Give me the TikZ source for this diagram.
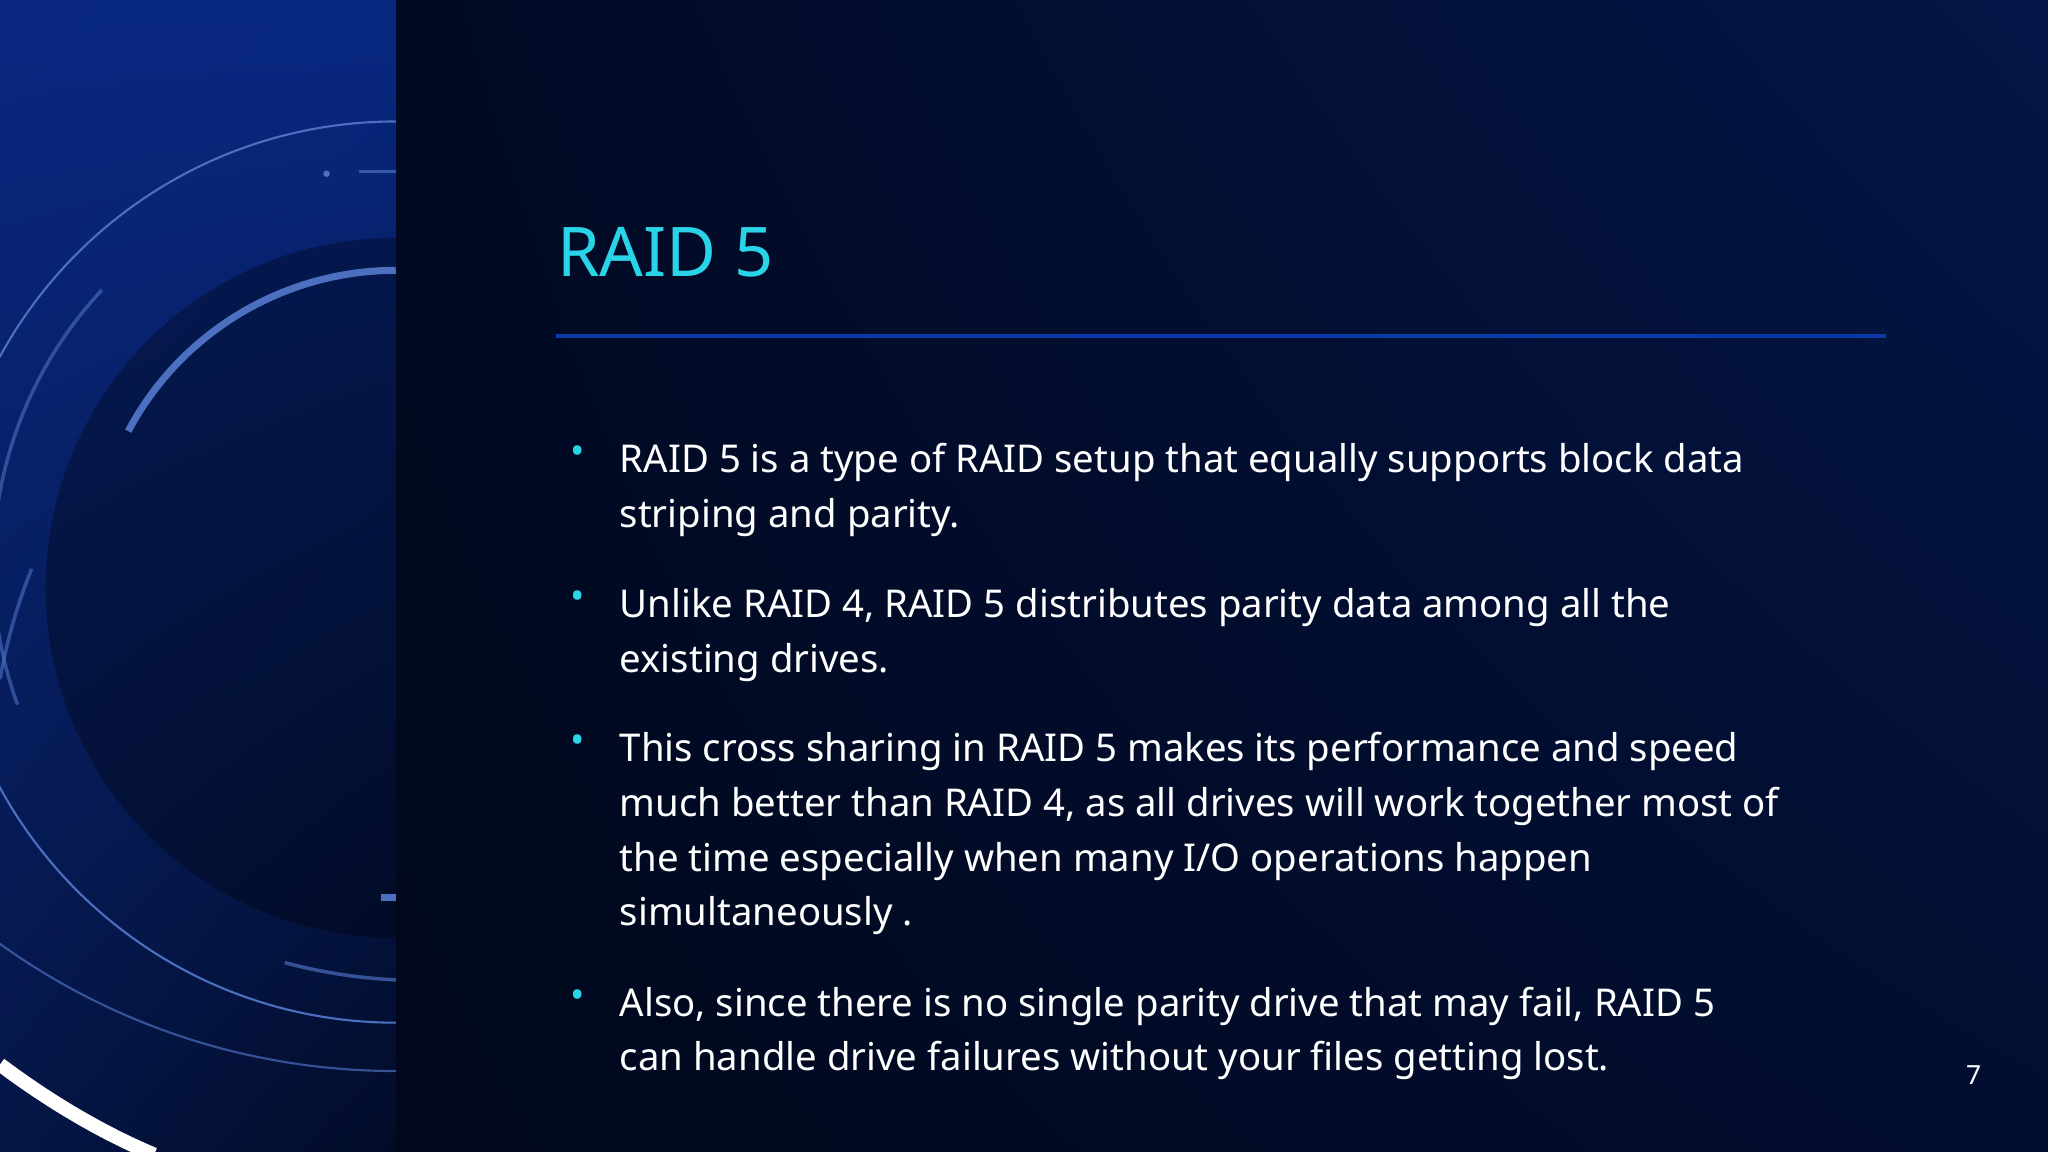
\documentclass[tikz,border=0pt]{standalone}
\usepackage{fontspec}
\setmainfont{Noto Sans}
\usetikzlibrary{positioning,shadings}
\definecolor{titlecyan}{HTML}{2AD4E8}
\definecolor{rulebl}{HTML}{0A3AA8}
\definecolor{arcbl}{HTML}{4C6FC0}
\definecolor{bgul}{RGB}{1,10,36}
\definecolor{bgur}{RGB}{4,22,72}
\definecolor{bgll}{RGB}{1,8,28}
\definecolor{bglr}{RGB}{2,14,48}
\definecolor{pnul}{RGB}{10,40,130}
\definecolor{pnur}{RGB}{8,40,130}
\definecolor{pnll}{RGB}{5,22,70}
\definecolor{pnlr}{RGB}{2,12,40}
\begin{document}
\begin{tikzpicture}[x=0.01306cm, y=-0.01306cm,
    bodytext/.style={anchor=north west, inner sep=0pt, align=left, text=white,
      font=\fontsize{10.9}{15.6}\selectfont},
    bulletdot/.style={anchor=base west, inner sep=0pt, text=titlecyan,
      font=\fontsize{10.9}{15.6}\selectfont}
  ]
  \useasboundingbox (0,0) rectangle (1568,882);

  % backgrounds
  \shade[upper left=bgul, upper right=bgur, lower left=bgll, lower right=bglr]
    (303,0) rectangle (1568,882);
  \shade[upper left=pnul, upper right=pnur, lower left=pnll, lower right=pnlr]
    (0,0) rectangle (303,882);

  % left panel decoration
  \begin{scope}
    \clip (0,0) rectangle (303,882);
    \fill[black, opacity=0.3] (303,450) circle (268);
    \draw[arcbl, line width=0.6pt] (303,438) circle (345);
    \draw[arcbl, opacity=0.7, line width=0.6pt] (303,300) circle (520);
    \draw[arcbl, line width=2pt] (303,207) arc[start angle=-90, end angle=-152, radius=232];
    \draw[arcbl, opacity=0.6, line width=1pt] (78,222) arc[start angle=-137, end angle=-200, radius=310];
    \draw[arcbl, opacity=0.6, line width=1pt] (0,520) arc[start angle=-170, end angle=-158, radius=420];
    \draw[arcbl, opacity=0.7, line width=1pt] (218,737) arc[start angle=105, end angle=92, radius=400];
    \draw[arcbl, opacity=0.7, line width=0.8pt] (275,131) -- (303,131);
    \fill[arcbl] (250,133) circle (2.5);
    \draw[arcbl, line width=2pt] (292,687) -- (303,687);
    \draw[white, line width=4pt] (0,815) .. controls (40,845) and (80,868) .. (118,884);
  \end{scope}

  % title
  \node[anchor=base west, inner sep=0pt, text=titlecyan, font=\fontsize{19.5}{24}\selectfont]
    (title) at (426,212) {RAID 5};
  \coordinate (ruleA) at (426,257);
  \coordinate (ruleB) at (1444,257);
  \draw[rulebl, line width=1.2pt] (ruleA) -- (ruleB);

  % bullets
  \node[bulletdot] (dot1) at (436,356) {•};
  \node[bodytext] (item1) at (474,339) {RAID 5 is a type of RAID setup that equally supports block data\\striping and parity.};
  \node[bulletdot] (dot2) at (436,467) {•};
  \node[bodytext] (item2) at (474,450) {Unlike RAID 4, RAID 5 distributes parity data among all the\\existing drives.};
  \node[bulletdot] (dot3) at (436,577) {•};
  \node[bodytext] (item3) at (474,560) {This cross sharing in RAID 5 makes its performance and speed\\much better than RAID 4, as all drives will work together most of\\the time especially when many I/O operations happen\\simultaneously .};
  \node[bulletdot] (dot4) at (436,772) {•};
  \node[bodytext] (item4) at (474,755) {Also, since there is no single parity drive that may fail, RAID 5\\can handle drive failures without your files getting lost.};

  % page number
  \node[anchor=base, inner sep=0pt, text=white, font=\fontsize{7.5}{9}\selectfont] (pagenum) at (1511,830) {7};
\end{tikzpicture}
\end{document}
